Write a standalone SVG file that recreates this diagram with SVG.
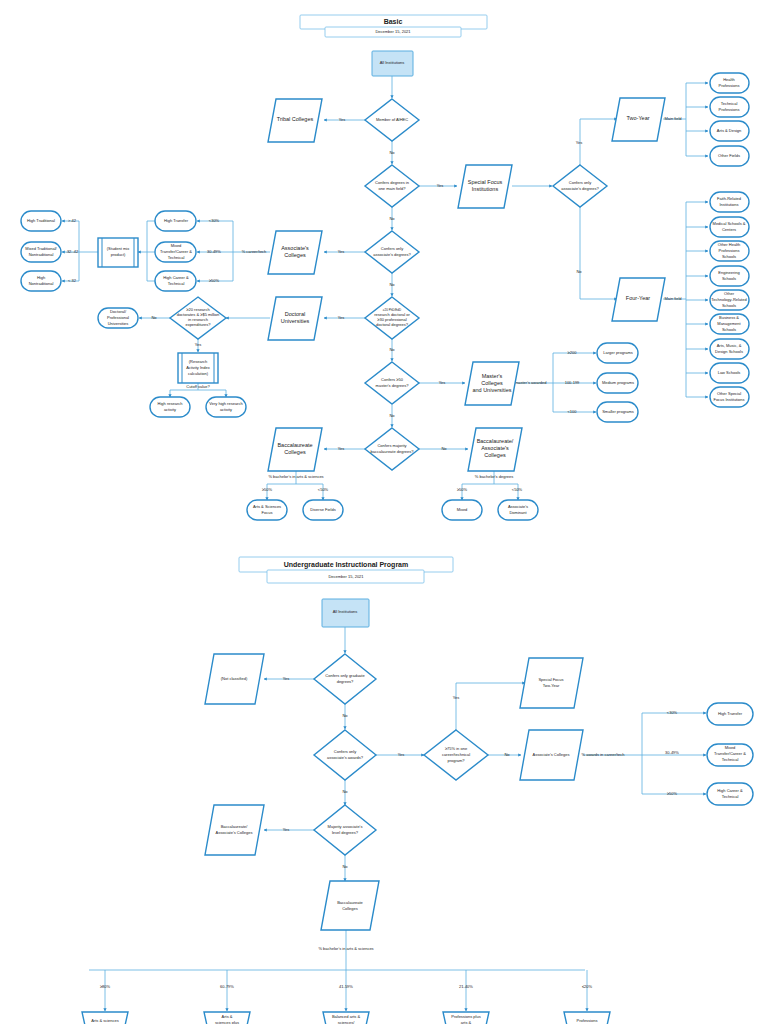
<svg xmlns="http://www.w3.org/2000/svg" width="768" height="1024" viewBox="0 0 768 1024">
<style>
text{font-family:"Liberation Sans",Arial,sans-serif;fill:#222;text-anchor:middle;dominant-baseline:middle}
.s{font-size:4px}.m{font-size:5.5px}.l{font-size:7px;font-weight:bold}
.n{fill:#fff;stroke:#2b8bca;stroke-width:1.4}
.t{fill:#fff;stroke:#7cc0ea;stroke-width:0.8}
.b{fill:#c5e3f6;stroke:#5aaee0;stroke-width:1}
.c path,.c line{fill:none;stroke:#5aaee0;stroke-width:0.8}
.a{marker-end:url(#ar)}
</style>
<defs><marker id="ar" markerWidth="4" markerHeight="4" refX="3.5" refY="2" orient="auto"><path d="M0,0L4,2L0,4z" fill="#2b8bca"/></marker></defs>
<rect width="768" height="1024" fill="#fff"/>
<g class="c">
<path class="a" d="M392,76V98"/><path class="a" d="M365,120H324"/>
<path class="a" d="M392,141V164"/><path class="a" d="M419,186H457"/>
<path class="a" d="M512,186H552"/><path class="a" d="M580,165V119H617"/><path class="a" d="M580,207V299H617"/>
<path d="M663,119H686M686,83V156M663,299H686M686,202V397"/>
<path class="a" d="M686,83H708"/><path class="a" d="M686,107H708"/><path class="a" d="M686,131H708"/><path class="a" d="M686,156H708"/>
<path class="a" d="M686,202H708"/><path class="a" d="M686,227H708"/><path class="a" d="M686,251H708"/><path class="a" d="M686,276H708"/><path class="a" d="M686,300H708"/><path class="a" d="M686,324H708"/><path class="a" d="M686,349H708"/><path class="a" d="M686,373H708"/><path class="a" d="M686,397H708"/>
<path class="a" d="M392,207V230"/><path class="a" d="M365,252H324"/>
<path d="M270,252H233M233,221V281"/><path class="a" d="M233,221H197"/><path class="a" d="M233,252H197"/><path class="a" d="M233,281H197"/>
<path d="M147,221V281M155,221H147M155,281H147"/><path class="a" d="M155,252H138"/>
<path d="M98,252H79M79,221V281"/><path class="a" d="M79,221H62"/><path class="a" d="M79,252H62"/><path class="a" d="M79,281H62"/>
<path class="a" d="M392,273V296"/><path class="a" d="M365,318H324"/><path class="a" d="M270,318H226"/><path class="a" d="M170,318H139"/>
<path class="a" d="M198,339V352"/><path d="M198,383V390M170,390H226"/><path class="a" d="M170,390V397"/><path class="a" d="M226,390V397"/>
<path class="a" d="M392,339V361"/><path class="a" d="M419,383H465"/><path d="M517,383H553M553,353V412"/>
<path class="a" d="M553,353H596"/><path class="a" d="M553,383H596"/><path class="a" d="M553,412H596"/>
<path class="a" d="M392,405V427"/><path class="a" d="M365,449H324"/><path class="a" d="M419,449H468"/>
<path d="M296,471V484M267,484H323M494,471V484M462,484H518"/>
<path class="a" d="M267,484V500"/><path class="a" d="M323,484V500"/><path class="a" d="M462,484V500"/><path class="a" d="M518,484V500"/>
<path class="a" d="M345,627V653"/><path class="a" d="M314,679H264"/><path class="a" d="M345,704V729"/>
<path class="a" d="M376,755H424"/><path class="a" d="M456,730V683H525"/><path class="a" d="M488,755H521"/>
<path d="M583,755H642M642,713V794"/><path class="a" d="M642,713H706"/><path class="a" d="M642,755H706"/><path class="a" d="M642,794H706"/>
<path class="a" d="M345,780V805"/><path class="a" d="M314,830H264"/><path class="a" d="M345,855V881"/>
<path d="M346,930V970M89,970H585"/>
<path class="a" d="M105,970V1011"/><path class="a" d="M227,970V1011"/><path class="a" d="M346,970V1011"/><path class="a" d="M466,970V1011"/><path class="a" d="M587,970V1011"/>
</g>
<g class="labels">
<text class="s" x="342" y="120" style="fill:#222">Yes</text>
<text class="s" x="392" y="153">No</text><text class="s" x="440" y="186">Yes</text>
<text class="s" x="579" y="143">Yes</text><text class="s" x="579" y="272">No</text>
<text class="s" x="673" y="119">Main field</text><text class="s" x="673" y="299">Main field</text>
<text class="s" x="392" y="219">No</text><text class="s" x="341" y="252">Yes</text>
<text class="s" x="254" y="252">% career/tech</text>
<text class="s" x="214" y="221">&lt;30%</text><text class="s" x="214" y="252">30-49%</text><text class="s" x="214" y="281">≥50%</text>
<text class="s" x="72" y="221">&gt;.42</text><text class="s" x="72" y="252">.32-.42</text><text class="s" x="72" y="281">&lt;.32</text>
<text class="s" x="392" y="285">No</text><text class="s" x="341" y="318">Yes</text><text class="s" x="154" y="318">No</text>
<text class="s" x="198" y="345">Yes</text><text class="s" x="198" y="387">Cutoff value?</text>
<text class="s" x="392" y="350">No</text><text class="s" x="442" y="383">Yes</text>
<text class="s" x="529" y="383"># master's awarded</text>
<text class="s" x="572" y="353">≥200</text><text class="s" x="572" y="383">100-199</text><text class="s" x="572" y="412">&lt;100</text>
<text class="s" x="392" y="416">No</text><text class="s" x="341" y="449">Yes</text><text class="s" x="444" y="449">No</text>
<text class="s" x="296" y="477">% bachelor's in arts &amp; sciences</text>
<text class="s" x="267" y="490">≥50%</text><text class="s" x="323" y="490">&lt;50%</text>
<text class="s" x="494" y="477">% bachelor's degrees</text>
<text class="s" x="462" y="490">≥50%</text><text class="s" x="517" y="490">&lt;50%</text>
<text class="s" x="286" y="679">Yes</text><text class="s" x="345" y="716">No</text><text class="s" x="401" y="755">Yes</text>
<text class="s" x="456" y="698">Yes</text><text class="s" x="507" y="755">No</text>
<text class="s" x="603" y="755">% awards in career/tech</text>
<text class="s" x="672" y="713">&lt;30%</text><text class="s" x="672" y="753">30-49%</text><text class="s" x="672" y="794">≥50%</text>
<text class="s" x="345" y="792">No</text><text class="s" x="286" y="830">Yes</text><text class="s" x="345" y="867">No</text>
<text class="s" x="346" y="949">% bachelor's in arts &amp; sciences</text>
<text class="s" x="105" y="987">≥80%</text><text class="s" x="227" y="987">60-79%</text><text class="s" x="346" y="987">41-59%</text><text class="s" x="466" y="987">21-40%</text><text class="s" x="587" y="987">≤20%</text>
</g>
<g id="title1"><rect class="t" x="300" y="15" width="187" height="14" rx="1"/><text class="l" x="393" y="22">Basic</text></g>
<g id="date1"><rect class="t" x="325" y="27" width="136" height="10" rx="1"/><text class="s" x="393" y="32">December 15, 2021</text></g>
<g id="all1"><rect class="b" x="372" y="51" width="41" height="25" rx="1"/><text class="s" x="392" y="63">All Institutions</text></g>
<g id="d1"><polygon class="n" points="392,99 419,120 392,141 365,120"/><text class="s" x="392" y="120">Member of AIHEC</text></g>
<g id="tribal"><polygon class="n" points="276,99 322,99 314,142 268,142"/><text class="m" x="295" y="120">Tribal Colleges</text></g>
<g id="d2"><polygon class="n" points="392,165 419,186 392,207 365,186"/><text class="s" x="392" y="183">Confers degrees in</text><text class="s" x="392" y="189">one main field?</text></g>
<g id="sfi"><polygon class="n" points="466,165 512,165 504,208 458,208"/><text class="m" x="485" y="183">Special Focus</text><text class="m" x="485" y="190">Institutions</text></g>
<g id="d3"><polygon class="n" points="580,165 607,186 580,207 553,186"/><text class="s" x="580" y="183">Confers only</text><text class="s" x="580" y="189">associate's degrees?</text></g>
<g id="twoyear"><polygon class="n" points="620,98 665,98 657,141 612,141"/><text class="m" x="638" y="119">Two-Year</text></g>
<g id="fouryear"><polygon class="n" points="620,278 665,278 657,321 612,321"/><text class="m" x="638" y="299">Four-Year</text></g>
<g id="p-health"><rect class="n" x="710" y="73" width="39" height="20" rx="10"/><text class="s" x="729" y="80">Health</text><text class="s" x="729" y="86">Professions</text></g>
<g id="p-tech"><rect class="n" x="710" y="97" width="39" height="20" rx="10"/><text class="s" x="729" y="104">Technical</text><text class="s" x="729" y="110">Professions</text></g>
<g id="p-arts"><rect class="n" x="710" y="121" width="39" height="20" rx="10"/><text class="s" x="729" y="131">Arts &amp; Design</text></g>
<g id="p-other"><rect class="n" x="710" y="146" width="39" height="20" rx="10"/><text class="s" x="729" y="156">Other Fields</text></g>
<g id="p-faith"><rect class="n" x="710" y="192" width="39" height="20" rx="10"/><text class="s" x="729" y="199">Faith-Related</text><text class="s" x="729" y="205">Institutions</text></g>
<g id="p-med"><rect class="n" x="710" y="217" width="39" height="20" rx="10"/><text class="s" x="729" y="224">Medical Schools &amp;</text><text class="s" x="729" y="230">Centers</text></g>
<g id="p-ohealth"><rect class="n" x="710" y="241" width="39" height="20" rx="10"/><text class="s" x="729" y="245">Other Health</text><text class="s" x="729" y="251">Professions</text><text class="s" x="729" y="257">Schools</text></g>
<g id="p-eng"><rect class="n" x="710" y="266" width="39" height="20" rx="10"/><text class="s" x="729" y="273">Engineering</text><text class="s" x="729" y="279">Schools</text></g>
<g id="p-otech"><rect class="n" x="710" y="290" width="39" height="20" rx="10"/><text class="s" x="729" y="294">Other</text><text class="s" x="729" y="300">Technology-Related</text><text class="s" x="729" y="306">Schools</text></g>
<g id="p-bus"><rect class="n" x="710" y="314" width="39" height="20" rx="10"/><text class="s" x="729" y="318">Business &amp;</text><text class="s" x="729" y="324">Management</text><text class="s" x="729" y="330">Schools</text></g>
<g id="p-ams"><rect class="n" x="710" y="339" width="39" height="20" rx="10"/><text class="s" x="729" y="346">Arts, Music, &amp;</text><text class="s" x="729" y="352">Design Schools</text></g>
<g id="p-law"><rect class="n" x="710" y="363" width="39" height="20" rx="10"/><text class="s" x="729" y="373">Law Schools</text></g>
<g id="p-osf"><rect class="n" x="710" y="387" width="39" height="20" rx="10"/><text class="s" x="729" y="394">Other Special</text><text class="s" x="729" y="400">Focus Institutions</text></g>
<g id="d4"><polygon class="n" points="392,231 419,252 392,273 365,252"/><text class="s" x="392" y="249">Confers only</text><text class="s" x="392" y="255">associate's degrees?</text></g>
<g id="assoc1"><polygon class="n" points="276,231 322,231 314,274 268,274"/><text class="m" x="295" y="249">Associate's</text><text class="m" x="295" y="256">Colleges</text></g>
<g id="ht1"><rect class="n" x="155" y="211" width="41" height="20" rx="10"/><text class="s" x="176" y="221">High Transfer</text></g>
<g id="mt1"><rect class="n" x="155" y="242" width="41" height="20" rx="10"/><text class="s" x="176" y="246">Mixed</text><text class="s" x="176" y="252">Transfer/Career &amp;</text><text class="s" x="176" y="258">Technical</text></g>
<g id="hc1"><rect class="n" x="155" y="271" width="41" height="20" rx="10"/><text class="s" x="176" y="278">High Career &amp;</text><text class="s" x="176" y="284">Technical</text></g>
<g id="smix"><rect class="n" x="98" y="238" width="40" height="29"/><line x1="102" y1="238" x2="102" y2="267" stroke="#2b8bca"/><line x1="134" y1="238" x2="134" y2="267" stroke="#2b8bca"/><text class="s" x="118" y="249">(Student mix</text><text class="s" x="118" y="255">product)</text></g>
<g id="htrad"><rect class="n" x="21" y="211" width="40" height="20" rx="10"/><text class="s" x="41" y="221">High Traditional</text></g>
<g id="mtrad"><rect class="n" x="21" y="242" width="40" height="20" rx="10"/><text class="s" x="41" y="249">Mixed Traditional/</text><text class="s" x="41" y="255">Nontraditional</text></g>
<g id="hnon"><rect class="n" x="21" y="271" width="40" height="20" rx="10"/><text class="s" x="41" y="278">High</text><text class="s" x="41" y="284">Nontraditional</text></g>
<g id="d5"><polygon class="n" points="392,297 419,318 392,339 365,318"/><text style="font-size:3px" x="392" y="310">≥20 PhD/EdD</text><text class="s" x="392" y="315">research doctoral or</text><text class="s" x="392" y="320">≥30 professional</text><text class="s" x="392" y="325">doctoral degrees?</text></g>
<g id="doc"><polygon class="n" points="276,297 322,297 314,340 268,340"/><text class="m" x="295" y="315">Doctoral</text><text class="m" x="295" y="322">Universities</text></g>
<g id="d6"><polygon class="n" points="198,297 226,318 198,339 170,318"/><text class="s" x="198" y="310">≥20 research</text><text class="s" x="198" y="315">doctorates &amp; ≥$5 million</text><text class="s" x="198" y="320">in research</text><text class="s" x="198" y="325">expenditures?</text></g>
<g id="dpu"><rect class="n" x="98" y="308" width="40" height="20" rx="10"/><text class="s" x="118" y="312">Doctoral/</text><text class="s" x="118" y="318">Professional</text><text class="s" x="118" y="324">Universities</text></g>
<g id="rai"><rect class="n" x="178" y="353" width="40" height="30"/><line x1="182" y1="353" x2="182" y2="383" stroke="#2b8bca"/><line x1="214" y1="353" x2="214" y2="383" stroke="#2b8bca"/><text class="s" x="198" y="362">(Research</text><text class="s" x="198" y="368">Activity Index</text><text class="s" x="198" y="374">calculation)</text></g>
<g id="hra"><rect class="n" x="150" y="397" width="40" height="20" rx="10"/><text class="s" x="170" y="404">High research</text><text class="s" x="170" y="410">activity</text></g>
<g id="vhra"><rect class="n" x="206" y="397" width="40" height="20" rx="10"/><text class="s" x="226" y="404">Very high research</text><text class="s" x="226" y="410">activity</text></g>
<g id="d7"><polygon class="n" points="392,362 419,383 392,404 365,383"/><text class="s" x="392" y="380">Confers ≥50</text><text class="s" x="392" y="386">master's degrees?</text></g>
<g id="masters"><polygon class="n" points="473,362 519,362 511,405 465,405"/><text class="m" x="492" y="377">Master's</text><text class="m" x="492" y="384">Colleges</text><text class="m" x="492" y="391">and Universities</text></g>
<g id="larger"><rect class="n" x="597" y="343" width="41" height="20" rx="10"/><text class="s" x="618" y="353">Larger programs</text></g>
<g id="medium"><rect class="n" x="597" y="373" width="41" height="20" rx="10"/><text class="s" x="618" y="383">Medium programs</text></g>
<g id="smaller"><rect class="n" x="597" y="402" width="41" height="20" rx="10"/><text class="s" x="618" y="412">Smaller programs</text></g>
<g id="d8"><polygon class="n" points="392,428 419,449 392,470 365,449"/><text class="s" x="392" y="446">Confers majority</text><text class="s" x="392" y="452">baccalaureate degrees?</text></g>
<g id="bacc1"><polygon class="n" points="276,428 322,428 314,471 268,471"/><text class="m" x="295" y="446">Baccalaureate</text><text class="m" x="295" y="453">Colleges</text></g>
<g id="baccassoc1"><polygon class="n" points="476,428 522,428 514,471 468,471"/><text class="m" x="495" y="442">Baccalaureate/</text><text class="m" x="495" y="449">Associate's</text><text class="m" x="495" y="456">Colleges</text></g>
<g id="asf"><rect class="n" x="247" y="500" width="40" height="20" rx="10"/><text class="s" x="267" y="507">Arts &amp; Sciences</text><text class="s" x="267" y="513">Focus</text></g>
<g id="df"><rect class="n" x="303" y="500" width="40" height="20" rx="10"/><text class="s" x="323" y="510">Diverse Fields</text></g>
<g id="mixed"><rect class="n" x="442" y="500" width="40" height="20" rx="10"/><text class="s" x="462" y="510">Mixed</text></g>
<g id="adom"><rect class="n" x="498" y="500" width="40" height="20" rx="10"/><text class="s" x="518" y="507">Associate's</text><text class="s" x="518" y="513">Dominant</text></g>
<g id="title2"><rect class="t" x="239" y="557" width="214" height="15" rx="1"/><text class="l" x="346" y="565">Undergraduate Instructional Program</text></g>
<g id="date2"><rect class="t" x="267" y="570" width="157" height="13" rx="1"/><text class="s" x="346" y="577">December 15, 2021</text></g>
<g id="all2"><rect class="b" x="322" y="599" width="47" height="28" rx="1"/><text class="s" x="345" y="612">All Institutions</text></g>
<g id="da"><polygon class="n" points="345,654 376,679 345,704 314,679"/><text class="s" x="345" y="676">Confers only graduate</text><text class="s" x="345" y="682">degrees?</text></g>
<g id="notc"><polygon class="n" points="214,654 264,654 255,704 205,704"/><text class="s" x="234" y="679">(Not classified)</text></g>
<g id="db"><polygon class="n" points="345,730 376,755 345,780 314,755"/><text class="s" x="345" y="752">Confers only</text><text class="s" x="345" y="758">associate's awards?</text></g>
<g id="dc"><polygon class="n" points="456,730 488,755 456,780 424,755"/><text class="s" x="456" y="749">≥75% in one</text><text class="s" x="456" y="755">career/technical</text><text class="s" x="456" y="761">program?</text></g>
<g id="sf2"><polygon class="n" points="529,658 583,658 574,708 520,708"/><text class="s" x="551" y="680">Special Focus</text><text class="s" x="551" y="686">Two-Year</text></g>
<g id="assoc2"><polygon class="n" points="529,730 583,730 574,780 520,780"/><text class="s" x="551" y="755">Associate's Colleges</text></g>
<g id="ht2"><rect class="n" x="707" y="703" width="46" height="22" rx="11"/><text class="s" x="730" y="714">High Transfer</text></g>
<g id="mt2"><rect class="n" x="707" y="744" width="46" height="22" rx="11"/><text class="s" x="730" y="748">Mixed</text><text class="s" x="730" y="754">Transfer/Career &amp;</text><text class="s" x="730" y="760">Technical</text></g>
<g id="hc2"><rect class="n" x="707" y="783" width="46" height="22" rx="11"/><text class="s" x="730" y="791">High Career &amp;</text><text class="s" x="730" y="797">Technical</text></g>
<g id="dd"><polygon class="n" points="345,805 376,830 345,855 314,830"/><text class="s" x="345" y="827">Majority associate's</text><text class="s" x="345" y="833">level degrees?</text></g>
<g id="baccassoc2"><polygon class="n" points="214,805 264,805 255,855 205,855"/><text class="s" x="234" y="827">Baccalaureate/</text><text class="s" x="234" y="833">Associate's Colleges</text></g>
<g id="bacc2"><polygon class="n" points="330,881 379,881 370,930 321,930"/><text class="s" x="350" y="903">Baccalaureate</text><text class="s" x="350" y="909">Colleges</text></g>
<g id="u1"><polygon class="n" points="82,1012 128,1012 124,1030 86,1030"/><text class="s" x="105" y="1021">Arts &amp; sciences</text></g>
<g id="u2"><polygon class="n" points="204,1012 250,1012 246,1030 208,1030"/><text class="s" x="227" y="1017">Arts &amp;</text><text class="s" x="227" y="1023">sciences plus</text></g>
<g id="u3"><polygon class="n" points="323,1012 369,1012 365,1030 327,1030"/><text class="s" x="346" y="1017">Balanced arts &amp;</text><text class="s" x="346" y="1023">sciences/</text></g>
<g id="u4"><polygon class="n" points="443,1012 489,1012 485,1030 447,1030"/><text class="s" x="466" y="1017">Professions plus</text><text class="s" x="466" y="1023">arts &amp;</text></g>
<g id="u5"><polygon class="n" points="564,1012 610,1012 606,1030 568,1030"/><text class="s" x="587" y="1021">Professions</text></g>
</svg>
